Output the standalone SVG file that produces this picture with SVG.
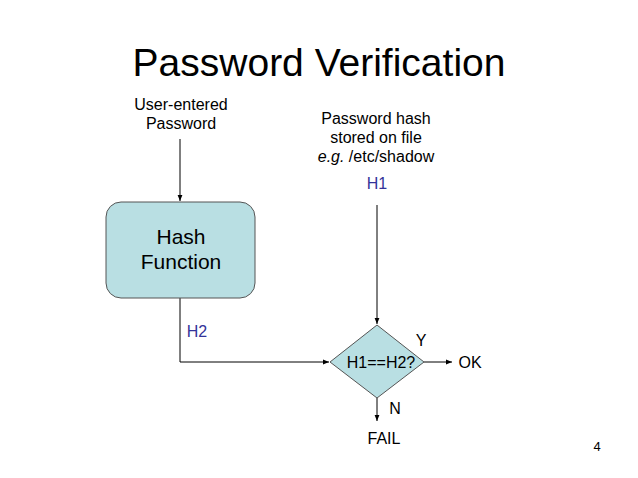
<svg xmlns="http://www.w3.org/2000/svg" width="638" height="478" viewBox="0 0 638 478">
<style>
text{font-family:"Liberation Sans",Arial,sans-serif;fill:#000}
.l{font-size:16px;text-anchor:middle}
.b{fill:#333399}
.c{stroke:#000;stroke-width:1;fill:none}
.n{fill:#b9dfe3;stroke:#555;stroke-width:1}
</style>
<defs>
<marker id="a" viewBox="0 0 10 10" refX="10" refY="5" markerWidth="6" markerHeight="6" orient="auto"><path d="M0,1 L10,5 L0,9 z" fill="#000"/></marker>
</defs>
<rect width="638" height="478" fill="#fff"/>
<text x="319" y="76" font-size="39" text-anchor="middle">Password Verification</text>
<g id="labels">
<text class="l" x="181" y="110">User-entered</text>
<text class="l" x="181" y="129">Password</text>
<text class="l" x="376" y="124">Password hash</text>
<text class="l" x="376" y="143">stored on file</text>
<text class="l" x="376" y="162"><tspan font-style="italic">e.g.</tspan> /etc/shadow</text>
<text class="l b" x="377" y="189">H1</text>
<text class="l b" x="197" y="337">H2</text>
<text class="l" x="421" y="346">Y</text>
<text class="l" x="395" y="414">N</text>
<text class="l" x="470" y="368">OK</text>
<text class="l" x="384" y="444">FAIL</text>
<text x="597" y="451" font-size="13" text-anchor="middle">4</text>
</g>
<g id="connectors">
<path class="c" d="M180,139 V201" marker-end="url(#a)"/>
<path class="c" d="M377,205 V324" marker-end="url(#a)"/>
<path class="c" d="M180,298 V362 H329" marker-end="url(#a)"/>
<path class="c" d="M424,362 H452" marker-end="url(#a)"/>
<path class="c" d="M377,398 V421" marker-end="url(#a)"/>
</g>
<g id="hash">
<rect class="n" x="106" y="202" width="149" height="96" rx="15"/>
<text x="181" y="244" font-size="21" text-anchor="middle">Hash</text>
<text x="181" y="269" font-size="21" text-anchor="middle">Function</text>
</g>
<g id="decision">
<polygon class="n" points="377,325 424,362 377,398 330,362"/>
<text class="l" x="381" y="368">H1==H2?</text>
</g>
</svg>
